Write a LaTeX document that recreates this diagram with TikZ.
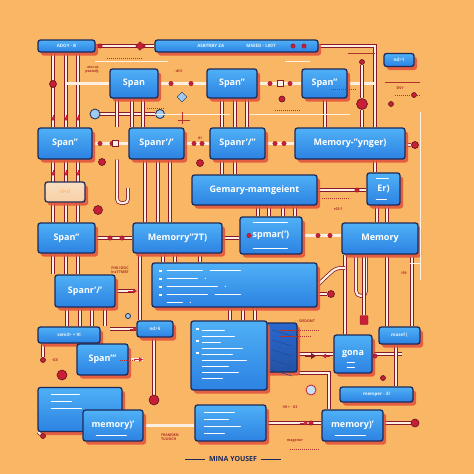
\documentclass[tikz,border=0pt]{standalone}
\usepackage{fontspec}
\setsansfont{Open Sans}
\usetikzlibrary{calc,shadows,arrows.meta}

\definecolor{bgorange}{HTML}{F9B665}
\definecolor{boxtop}{HTML}{4FB0F6}
\definecolor{boxbot}{HTML}{2C82E2}
\definecolor{boxline}{HTML}{1D2A5A}
\definecolor{shadowred}{HTML}{E2563C}
\definecolor{pipered}{HTML}{861A2A}
\definecolor{pipecream}{HTML}{FDF0E2}
\definecolor{dotred}{HTML}{C81E36}
\definecolor{textred}{HTML}{B0322A}
\definecolor{beige}{HTML}{F8DEC2}
\definecolor{sideblue}{HTML}{2A68CF}
\definecolor{paleblue}{HTML}{9FCBEF}

\pgfdeclarelayer{bg}
\pgfdeclarelayer{pipes}
\pgfsetlayers{bg,pipes,main}

\tikzset{
  box/.style={draw=boxline, line width=1.3pt, rounded corners=2.5pt,
    top color=boxtop, bottom color=boxbot, text=white, inner sep=0pt,
    font=\sffamily\bfseries\fontsize{9}{10}\selectfont,
    drop shadow={shadow xshift=3pt, shadow yshift=-3.5pt, fill=shadowred, opacity=.9}},
  tinybox/.style={box, font=\sffamily\bfseries\fontsize{4.5}{5}\selectfont, text=white!85!boxtop},
  pipe/.style={draw=pipered, double=pipecream, double distance=2.2pt, line width=.75pt},
  dot/.style={circle, draw=pipered!70!black, line width=.6pt, fill=dotred, minimum size=#1, inner sep=0pt},
  dot/.default=7pt,
  bluedot/.style={circle, draw=boxline, line width=.8pt, fill=paleblue, minimum size=#1, inner sep=0pt},
  bluedot/.default=10pt,
  knob/.style={circle, fill=dotred, draw=pipered, line width=.3pt, minimum size=4.5pt, inner sep=0pt},
  note/.style={text=textred, font=\sffamily\bfseries\fontsize{3.6}{4.2}\selectfont, inner sep=0pt, align=left},
  codeline/.style={white, line width=1.3pt, line cap=round},
  marks/.style={textred, line width=.5pt, dashed, dash pattern=on 1pt off 1pt},
  tip/.style={-{Triangle[length=4pt,width=4.5pt]}, dotred, line width=.6pt},
}

\begin{document}
\begin{tikzpicture}[x=1pt, y=-1pt]

\begin{pgfonlayer}{bg}
  \fill[bgorange] (0,0) rectangle (474,474);
\end{pgfonlayer}

% top bars
\node[tinybox, minimum width=57, minimum height=12] (topa) at (66.5,46) {ADOY · B};
\node[tinybox, minimum width=163, minimum height=12] (topb) at (236.5,46) {ASBTRBY ZA \hspace{20pt} MSEED - L00T};
\node[tinybox, minimum width=30, minimum height=13] (ndone) at (399,60) {nd>1};

% row 1
\node[box, minimum width=48, minimum height=29] (span) at (134,83.5) {Span};
\node[box, minimum width=50, minimum height=29] (spanb) at (232,83.5) {Span''};
\node[box, minimum width=45, minimum height=29] (spanc) at (324.5,83.5) {Span''};

% row 2
\node[box, minimum width=54, minimum height=31] (spand) at (65,143.5) {Span''};
\node[box, minimum width=55, minimum height=31] (spane) at (156.5,143.5) {Spanr'/'};
\node[box, minimum width=55, minimum height=31] (spanf) at (237.5,143.5) {Spanr'/''};
\node[box, minimum width=110, minimum height=31] (memmgr) at (350,143.5) {Memory-''ynger)};

% row 3
\node[box, top color=beige, bottom color=beige!85!orange, text=beige!60!orange, minimum width=40, minimum height=20, font=\sffamily\bfseries\fontsize{5}{5}\selectfont] (beige) at (65,192) {c9-tl};
\node[box, minimum width=125, minimum height=30] (gemary) at (254.5,190) {Gemary-mamgeient};
\node[box, minimum width=33, minimum height=32] (er) at (383.5,189) {Er)};

% row 4
\node[box, minimum width=57, minimum height=30] (spang) at (66.5,238) {Span''};
\node[box, minimum width=89, minimum height=30] (memt) at (177.5,238) {Memorry''7T)};
\node[box, minimum width=62, minimum height=37] (spmar) at (271,235.5) {spmar(')};
\node[box, minimum width=76, minimum height=31] (memory) at (380,238.5) {Memory};

% row 5
\node[box, minimum width=60, minimum height=32] (spanh) at (85,291) {Spanr'/'};
\node[box, minimum width=165, minimum height=44] (code) at (234.5,285) {};
\node[tinybox, minimum width=36, minimum height=16] (ndfive) at (155,329) {nd>5};
\node[tinybox, minimum width=62, minimum height=16] (sem) at (69,335) {sem3> + 9l};
\node[box, minimum width=51, minimum height=31] (spani) at (102.5,359.5) {Span'''};
\node[box, top color=sideblue, bottom color=sideblue!80!black, minimum width=40, minimum height=49] (docback) at (277,347.5) {};
\node[box, minimum width=76, minimum height=69] (doc) at (229,355.5) {};
\node[box, minimum width=38, minimum height=38] (gona) at (353,354) {gona};
\node[tinybox, minimum width=41, minimum height=17] (mosef) at (399.5,335.5) {mosef (};
\node[tinybox, minimum width=73, minimum height=15] (memper) at (376.5,394.5) {memper - 3l};

% bottom row
\node[box, minimum width=84, minimum height=44] (codeb) at (80,409.5) {};
\node[box, minimum width=60, minimum height=31] (memleft) at (113,425.5) {memory)'};
\node[box, minimum width=71, minimum height=36] (codec) at (230.5,423) {};
\node[box, minimum width=61, minimum height=31] (memright) at (352.5,425.5) {memory)'};

% dots
\node[dot] (dota) at (53,84) {};
\node[dot=5pt] (dotb) at (362,62) {};
\node[dot=11pt] (dotc) at (362,104) {};
\node[dot=6pt] (dotd) at (282,99) {};
\node[dot] (dote) at (415,145) {};
\node[dot] (dotf) at (102,162) {};
\node[dot] (dotg) at (200,163) {};
\node[dot=9pt] (doth) at (98,210) {};
\node[dot] (doti) at (331,294) {};
\node[dot=10pt] (dotj) at (62,375) {};
\node[dot=5pt] (dotk) at (43,360) {};
\node[dot=10pt] (dotl) at (154,400) {};
\node[dot=5pt] (dotm) at (383,378) {};
\node[dot=8pt] (dotn) at (415,423) {};
\node[dot=5pt] (doto) at (43,436) {};
\node[dot=5pt] (dotp) at (391,104) {};
\node[dot=5pt] (dotq) at (414,95) {};
\node[bluedot] (blua) at (95,114) {};
\node[bluedot=9pt] (blub) at (160,114) {};
\node[bluedot=5pt] (bluc) at (128,316) {};
\node[bluedot=10pt, fill=paleblue!60!white, draw=dotred] (blud) at (311,390) {};
\node[draw=pipered, fill=dotred, rounded corners=1pt, minimum width=8, minimum height=9, inner sep=0pt] (reds) at (364,320) {};
\node[draw=boxline, fill=paleblue, minimum width=7, minimum height=7, rotate=45, inner sep=0pt] (dia) at (182,97) {};

\begin{pgfonlayer}{pipes}
  % top
  \draw[pipe] (topa) -- (topb);
  \draw[pipe] (topb.east) -| (375,0 |- memmgr.north);
  \foreach \x in {53,66,78}
    \draw[pipe] (\x,0 |- topa.south) -- (\x,0 |- spand.north);
  \draw[pipe] (66,0 |- span.west) -- (span.west);
  \draw[pipe] (span) -- (spanb);
  \draw[pipe] (spanb) -- (spanc);
  \draw[pipe] (spanc.east) -- (375,0 |- spanc.east);
  \draw[pipe] (dotb) -- (dotc) -- (362,0 |- memmgr.north);
  \draw[pipe] (blua) -- (blub);
  \foreach \x in {117,132,143}
    \draw[pipe] (\x,0 |- span.south) -- (\x,0 |- spane.north);
  \foreach \x in {222,235,247}
    \draw[pipe] (\x,0 |- spanb.south) -- (\x,0 |- spanf.north);
  \draw[pipe] (325,0 |- spanc.south) -- (325,0 |- memmgr.north);
  % row 2
  \draw[pipe] (spand) -- (spane);
  \draw[pipe] (spane) -- (spanf);
  \draw[pipe] (spanf) -- (memmgr);
  \draw[pipe] (memmgr) -- (dote);
  \foreach \x in {53,66,78}
    \draw[pipe] (\x,0 |- spand.south) -- (\x,0 |- spang.north);
  \foreach \x in {145,158,170}
    \draw[pipe] (\x,0 |- spane.south) -- (\x,0 |- memt.north);
  \draw[pipe, rounded corners=4pt] (117,0 |- spane.south) -- (117,203) -- (128,203) -- (128,188);
  \foreach \x in {222,235}
    \draw[pipe] (\x,0 |- spanf.south) -- (\x,0 |- gemary.north);
  \draw[pipe] (375,0 |- memmgr.south) -- (375,0 |- er.north);
  % row 3
  \draw[pipe] (gemary.east) -- (er.west |- gemary.east);
  \foreach \x in {258,269,283,295}
    \draw[pipe] (\x,0 |- gemary.south) -- (\x,0 |- spmar.north);
  \foreach \x in {377,387}
    \draw[pipe] (\x,0 |- er.south) -- (\x,0 |- memory.north);
  % row 4
  \draw[pipe] (spang) -- (memt);
  \draw[pipe] (memt.east) -- (spmar.west |- memt.east);
  \draw[pipe] (spmar.east) -- (memory.west |- spmar.east);
  \foreach \x in {53,66,78}
    \draw[pipe] (\x,0 |- spang.south) -- (\x,0 |- spanh.north);
  \foreach \x in {163,175,200}
    \draw[pipe] (\x,0 |- memt.south) -- (\x,0 |- code.north);
  \draw[pipe] (140,0 |- memt.south) -- (140,0 |- ndfive.north);
  \draw[pipe] (345,0 |- memory.south) -- (345,0 |- gona.north);
  \draw[pipe, rounded corners=5pt] (356,0 |- memory.south) -- (356,296) -- (366,296) -- (366,0 |- memory.south);
  \draw[pipe] (364,0 |- memory.south) -- (reds);
  \foreach \x in {387,412}
    \draw[pipe] (\x,0 |- memory.south) -- (\x,0 |- mosef.north);
  % row 5
  \foreach \x in {67,80,92,105}
    \draw[pipe] (\x,0 |- spanh.south) -- (\x,0 |- sem.north);
  \draw[pipe] (spanh.east) -- (135,0 |- spanh.east);
  \draw[pipe, rounded corners=4pt] (code.east) -- (328,275) -- (336,268) -- (345,268);
  \draw[pipe] (code.east |- doti) -- (doti);
  \foreach \x in {230,243,255}
    \draw[pipe] (\x,0 |- code.south) -- (\x,0 |- doc.north);
  \draw[pipe] (110,0 |- ndfive.west) -- (ndfive.west);
  \draw[pipe] (spani.east) -- (143,0 |- spani.east);
  \draw[pipe] (154,0 |- ndfive.south) -- (dotl);
  \draw[pipe] (docback.east |- gona.west) -- (gona.west);
  \draw[pipe] (gona.east) -- (402,0 |- gona.east);
  \draw[pipe] (396,0 |- mosef.south) -- (396,0 |- memper.north);
  \draw[pipe] (docback.south east) -| (329,0 |- memright.north);
  \draw[pipe] (memleft.east) -- (codec.west |- memleft.east);
  \draw[pipe] (codec.east) -- (memright.west |- codec.east);
  \draw[pipe] (memright.east |- dotn) -- (dotn);
  \draw[pipe] (dotk) -- (dotk |- sem.south);
  \draw[pipe] (38,0 |- codeb.south) -- (doto);
\end{pgfonlayer}

% knobs and tips on the pipes
\foreach \p in {(100,46),(143,46),(293,46),(304,46),(171,83.5),(191,83.5),(270,83.5),(290,83.5),
  (100,143.5),(112,143.5),(194,143.5),(202,143.5),(275,143.5),(284,143.5),(357,190),
  (110,238),(122,238),(249,235.5),(318,235.5),(330,235.5),(375,356),(311,423)}
  \node[knob] at \p {};
\node[fill=dotred, draw=pipered, minimum size=6pt, inner sep=0pt, rotate=45] at (140,46) {};
\node[draw=pipered, fill=pipecream, minimum size=6pt, inner sep=0pt] at (115,143.5) {};
\node[draw=pipered, fill=pipecream, minimum size=6pt, inner sep=0pt] at (280,83.5) {};
\draw[tip] (128,291) -- (137,291);
\draw[tip] (130,329) -- (137,329);
\draw[tip] (134,359.5) -- (143,359.5);
\draw[-{Triangle[length=5pt,width=6pt]}, white, draw=pipered, line width=.4pt] (305,356) -- (316,356);
\draw[tip] (330,356) -- (322,356);
\foreach \x in {53,66,78} \draw[tip] (\x,115) -- (\x,121);
\foreach \x in {53,66,78} \draw[tip] (\x,170) -- (\x,176);
\draw[tip] (300,423) -- (308,423);

% code lines
\foreach \y/\a/\b in {8/35/30,16/30/0,24/50/0,32/40/25,40/15/0}
  \draw[codeline] ($(code.north west)+(16,\y)$) -- ++(\a,0) ++(8,0) -- ++(\b,0);
\foreach \y in {10,18,26,34} \fill[white] ($(code.north west)+(8,\y)$) rectangle ++(2.5,-2.5);
\foreach \y/\a in {10/22,16/32,22/18,28/40,34/30,40/44,46/26,52/36,58/20}
  \draw[codeline, line width=1pt] ($(doc.north west)+(12,\y)$) -- ++(\a,0);
\foreach \y in {10,22,34} \fill[white] ($(doc.north west)+(6,\y)$) rectangle ++(2.5,-2);
\foreach \y/\a in {8/30,15/24,22/36,29/20}
  \draw[codeline, line width=1pt] ($(codec.north west)+(10,\y)$) -- ++(\a,0);
\foreach \y/\a in {8/28,15/20,22/30}
  \draw[codeline, line width=1pt] ($(codeb.north west)+(14,\y)$) -- ++(\a,0);
\draw[codeline] ($(spmar.north west)+(14,6)$) -- ++(34,0);
\draw[codeline] ($(spmar.south west)+(14,-6)$) -- ++(34,0);
\draw[codeline] ($(er.north west)+(10,6)$) -- ++(12,0);
\draw[codeline] ($(er.south west)+(10,-6)$) -- ++(10,0);
\draw[codeline] ($(gona.south west)+(14,-11)$) -- ++(7,0);
\draw[codeline] ($(gona.south west)+(14,-6)$) -- ++(7,0);
\draw[codeline] ($(memleft.south west)+(14,-6)$) -- ++(30,0);
\draw[codeline] ($(memright.south west)+(14,-6)$) -- ++(30,0);
\foreach \y in {330,340,350,360,370} \draw[boxline!50!sideblue, line width=.5pt] (272,\y) -- (292,\y+6);

% light rules and red marks
\draw[pipecream, line width=1pt] (95,61) -- (168,61);
\draw[pipecream, line width=1pt] (250,114) -- (350,114);
\draw[pipecream, line width=1pt] (155,114) -- (230,114);
\draw[pipecream, line width=.8pt] (420,112) -- (420,280);
\draw[pipecream, line width=.8pt] (410,263) -- (420,263);
\draw[marks] (107,58) -- (143,58);
\draw[marks] (275,110) -- (300,110);
\draw[marks] (331,89) -- (356,89);
\draw[marks] (147,108) -- (165,108);
\draw[marks] (322,198) -- (350,198);
\draw[marks] (120,360) -- (135,360);
\draw[marks] (280,330) -- (320,330);
\draw[marks] (280,336) -- (312,336);
\draw[marks] (290,449) -- (320,449);
\draw[marks] (395,95) -- (420,95);
\draw[textred, line width=.6pt] (385,82) -- (420,82);
\draw[textred, line width=.6pt] (178,120) -- (190,120) (182,112) -- (182,124);
\draw[textred, line width=.6pt] (348,53) -- (375,53);
\draw[pipecream, line width=.8pt] (285,61) -- (310,61);

% small notes
\node[note, rotate=180] (nta) at (92,70) {Spwesd\\to ssw};
\node[note] (ntb) at (178,71) {- dIII};
\node[note] (ntc) at (120,270) {FHK IOOC\\lncTTMBT};
\node[note] (ntd) at (305,321) {- - SIEDONT};
\node[note] (nte) at (338,209) {r03 f};
\node[note] (ntf) at (200,138) {\#I};
\node[note] (ntg) at (170,437) {FRAMDEN\\TUUDCH};
\node[note] (nth) at (295,441) {magenor};
\node[note] (nti) at (55,360) {·ICE};
\node[note] (ntj) at (290,407) {II9 > · II3};
\node[note] (ntk) at (400,88) {3NY};
\node[note] (ntl) at (404,273) {I99};

% signature
\node[text=boxline, font=\sffamily\bfseries\fontsize{7}{8}\selectfont] (sig) at (233,459) {MINA YOUSEF};
\draw[boxline, line width=.8pt] ($(sig.west)+(-20,0)$) -- (sig.west);
\draw[boxline, line width=.8pt] (sig.east) -- ++(20,0);

\end{tikzpicture}
\end{document}
